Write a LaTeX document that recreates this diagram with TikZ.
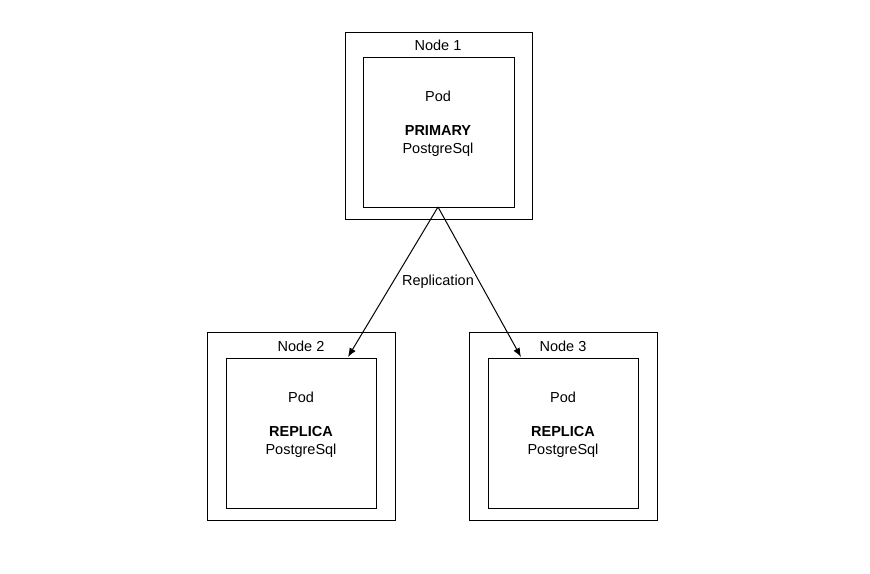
\documentclass[tikz,border=0pt]{standalone}
\usepackage{fontspec}
\setmainfont{Liberation Sans}
\usetikzlibrary{arrows.meta}
\begin{document}
\begin{tikzpicture}[x=1pt,y=-1pt,
  box/.style={draw,line width=1pt,inner sep=0pt},
  lbl/.style={font=\fontsize{14.5}{17}\selectfont,inner sep=1pt},
  arr/.style={-{Latex[length=9pt,width=7pt]},line width=1pt}]
\useasboundingbox[fill=white] (0,0) rectangle (870,573);
% Node 1
\node[box,minimum width=187,minimum height=187] (n1) at (438.5,125.5) {};
\node[box,minimum width=151,minimum height=150] (p1) at (438.5,132) {};
\node[lbl] (t1) at (438,45) {Node 1};
\node[lbl] (a1) at (438,96) {Pod};
\node[lbl] (b1) at (438,131) {\textbf{PRIMARY}};
\node[lbl] (e1) at (438,150) {PostgreSql};
% Node 2
\node[box,minimum width=188,minimum height=188] (n2) at (301,426) {};
\node[box,minimum width=150,minimum height=150] (p2) at (301,433) {};
\node[lbl] (t2) at (301,346) {Node 2};
\node[lbl] (a2) at (301,397) {Pod};
\node[lbl] (b2) at (301,432) {\textbf{REPLICA}};
\node[lbl] (e2) at (301,451) {PostgreSql};
% Node 3
\node[box,minimum width=188,minimum height=188] (n3) at (563,426) {};
\node[box,minimum width=150,minimum height=150] (p3) at (563,433) {};
\node[lbl] (t3) at (563,346) {Node 3};
\node[lbl] (a3) at (563,397) {Pod};
\node[lbl] (b3) at (563,432) {\textbf{REPLICA}};
\node[lbl] (e3) at (563,451) {PostgreSql};
% arrows
\coordinate (src) at (438,207);
\coordinate (d2) at (348,357);
\coordinate (d3) at (521,357);
\draw[arr] (src) -- (d2);
\draw[arr] (src) -- (d3);
\node[lbl,fill=white] (rep) at (438,282) {Replication};
\end{tikzpicture}
\end{document}
